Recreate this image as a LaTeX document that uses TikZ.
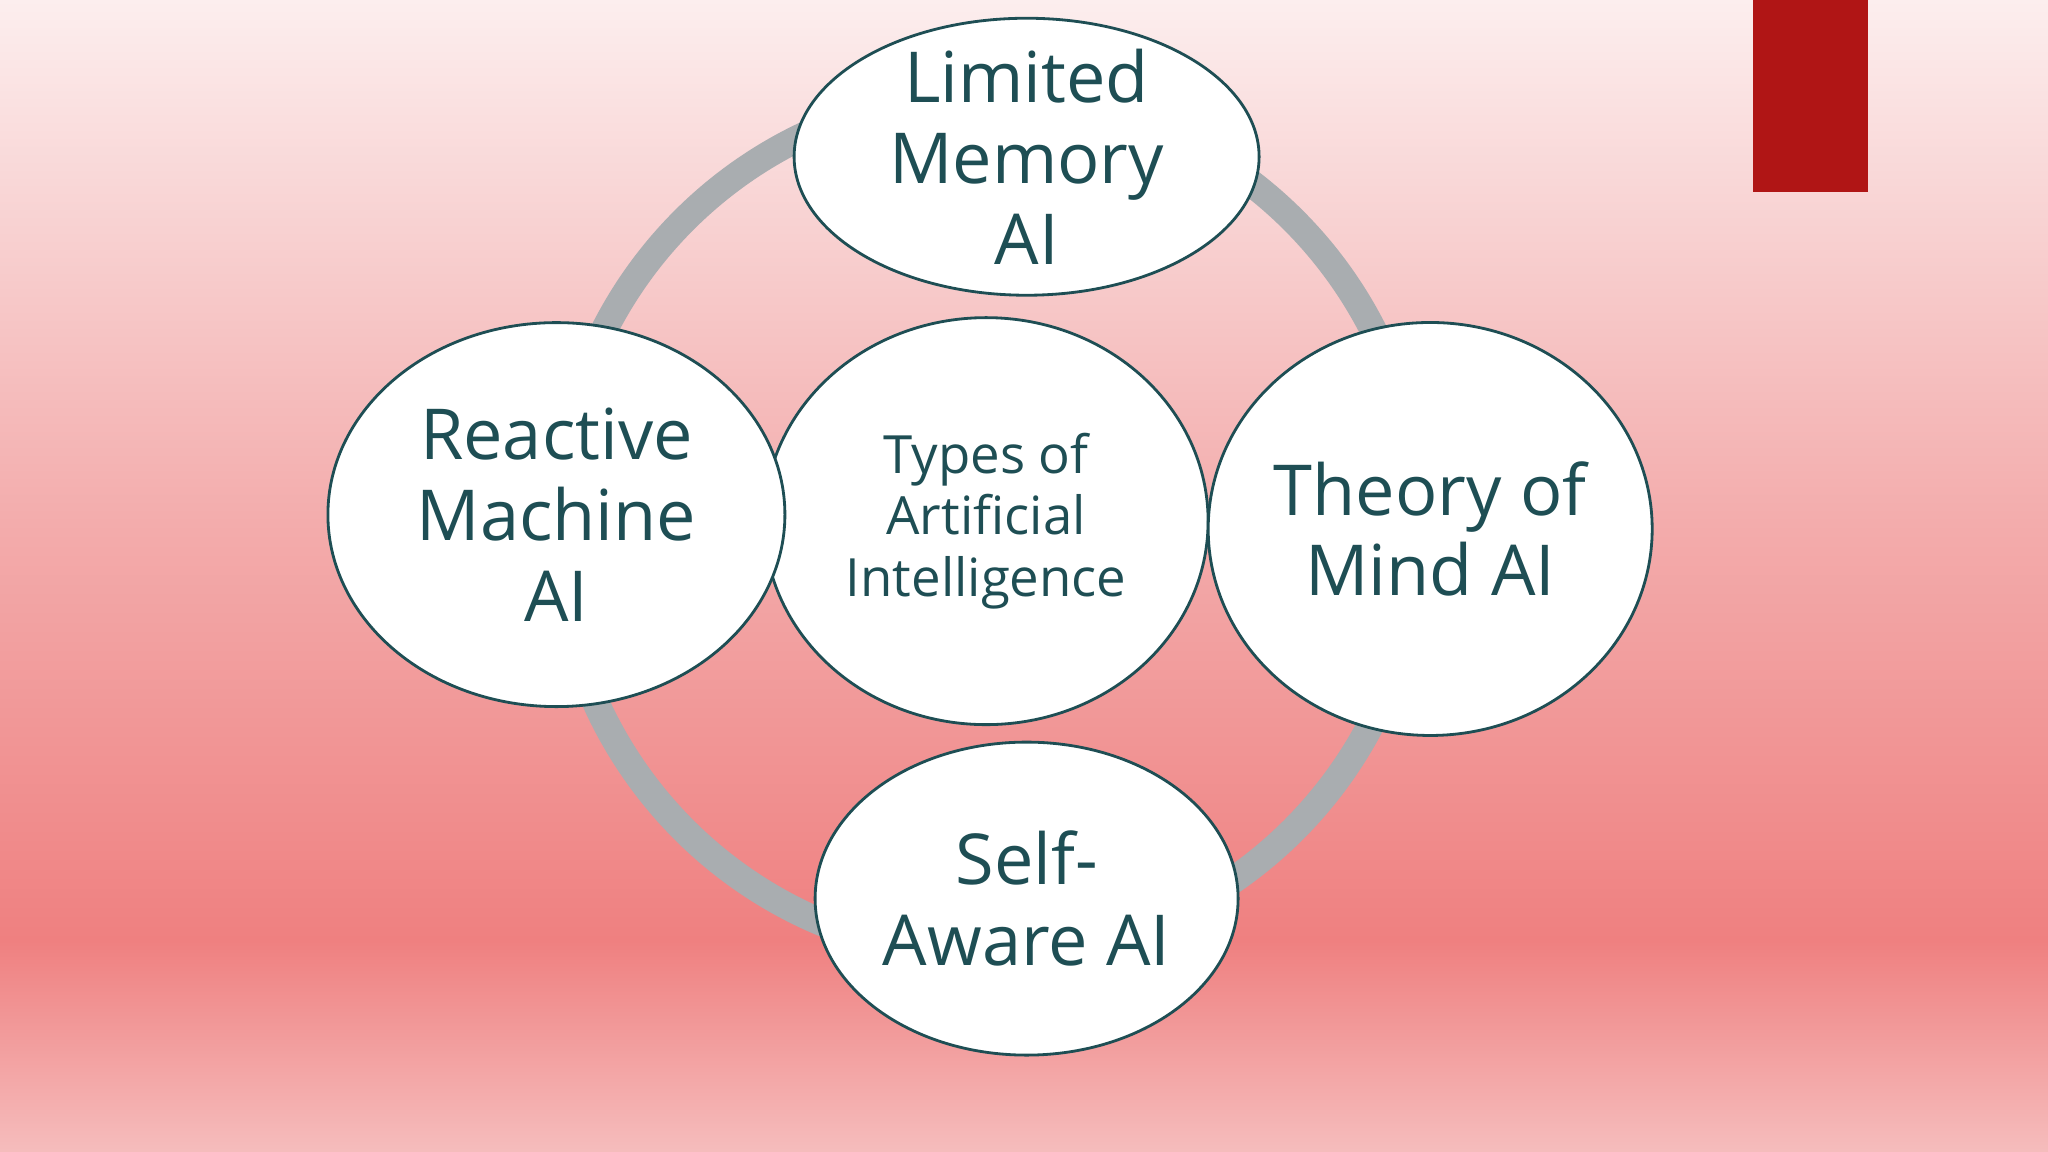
\documentclass[tikz,border=0pt]{standalone}
\usepackage{fontspec}
\setmainfont{Open Sans}
\usetikzlibrary{positioning,shapes.geometric}
\definecolor{tealtxt}{RGB}{30,78,84}
\definecolor{ringgray}{RGB}{169,173,176}
\definecolor{barred}{RGB}{176,21,21}
\definecolor{topbg}{RGB}{252,238,238}
\definecolor{midbg}{RGB}{243,172,172}
\definecolor{lowbg}{RGB}{239,128,128}
\tikzset{
  kind/.style={ellipse, draw=tealtxt, thick, fill=white, text=tealtxt,
    align=center, font=\fontsize{20}{23}\selectfont, inner sep=-1.5cm},
}
\begin{document}
\begin{tikzpicture}[x=0.01306cm,y=-0.01306cm]
          \useasboundingbox (0,0) rectangle (1568,882);
          % background
          \shade[top color=topbg, bottom color=midbg] (0,0) rectangle (1568,400);
          \shade[top color=midbg, bottom color=lowbg] (0,400) rectangle (1568,720);
          \shade[top color=lowbg, bottom color=midbg!80!white] (0,720) rectangle (1568,882);
          \fill[barred] (1342,0) rectangle (1430,147);
          % ring
          \draw[ringgray, line width=0.27cm] (757,402) circle[radius=330];
          % centre
          \node[kind, font=\fontsize{15}{17.5}\selectfont, minimum width=4.44cm, minimum height=4.07cm] (types) at (755,399) {Types of\\Artificial\\Intelligence};
          \node[kind, minimum width=4.65cm, minimum height=2.77cm] (memory) at (786,120) {Limited\\Memory\\AI};
          \node[kind, minimum width=4.57cm, minimum height=3.84cm] (reactive) at (426,394) {Reactive\\Machine\\AI};
          \node[kind, minimum width=4.44cm, minimum height=4.13cm] (mind) at (1095,405) {Theory of\\Mind AI};
          \node[kind, minimum width=4.23cm, minimum height=3.13cm] (aware) at (786,688) {Self-\\Aware AI};
\end{tikzpicture}
\end{document}
